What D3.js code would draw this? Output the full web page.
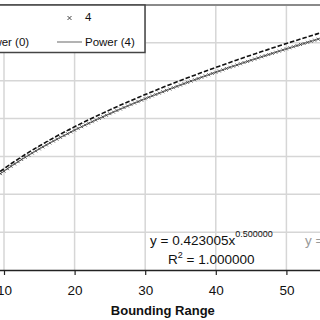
<!DOCTYPE html>
<html><head><meta charset="utf-8">
<script src="https://cdn.jsdelivr.net/npm/d3@7"></script>
<style>html,body{margin:0;padding:0;background:#fff;overflow:hidden}svg{display:block;font-family:"Liberation Sans",Arial,sans-serif}</style>
</head><body>
<svg id="c" width="320" height="320"></svg>
<script>
// ---- data ----
const xTicks = [10, 20, 30, 40, 50, 60];
const yGrid = [0.5, 1.0, 1.5, 2.0, 2.5, 3.0, 3.5];
// series "0" (Power (0) trend, black dashed)
const s0X = [8,9,10,11,12,13,14,15,16,17,18,19,20,21,22,23,24,25,26,27,28,29,30,31,32,33,34,35,36,37,38,39,40,41,42,43,44,45,46,47,48,49,50,51,52,53,54,55,56,57,58];
const s0Y = [1.196,1.269,1.338,1.403,1.465,1.525,1.583,1.638,1.692,1.744,1.795,1.844,1.892,1.938,1.984,2.029,2.072,2.115,2.157,2.198,2.238,2.278,2.317,2.355,2.393,2.430,2.467,2.503,2.538,2.573,2.608,2.642,2.675,2.708,2.741,2.774,2.806,2.838,2.869,2.900,2.931,2.961,2.991,3.021,3.050,3.079,3.108,3.137,3.165,3.194,3.221];
// series "4" (x markers, Power (4) trend gray)
const s4X = [9,9.5,10,10.5,11,11.5,12,12.5,13,13.5,14,14.5,15,15.5,16,16.5,17,17.5,18,18.5,19,19.5,20,20.5,21,21.5,22,22.5,23,23.5,24,24.5,25,25.5,26,26.5,27,27.5,28,28.5,29,29.5,30,30.5,31,31.5,32,32.5,33,33.5,34,34.5,35,35.5,36,36.5,37,37.5,38,38.5,39,39.5,40,40.5,41,41.5,42,42.5,43,43.5,44,44.5,45,45.5,46,46.5,47,47.5,48,48.5,49,49.5,50,50.5,51,51.5,52,52.5,53,53.5,54,54.5,55,55.5,56];
const s4Y = [1.239,1.273,1.306,1.338,1.370,1.401,1.431,1.460,1.489,1.517,1.545,1.573,1.600,1.626,1.652,1.678,1.703,1.728,1.752,1.776,1.800,1.824,1.847,1.870,1.893,1.915,1.937,1.959,1.981,2.002,2.023,2.044,2.065,2.086,2.106,2.126,2.146,2.166,2.185,2.205,2.224,2.243,2.262,2.281,2.300,2.318,2.336,2.354,2.373,2.390,2.408,2.426,2.443,2.461,2.478,2.495,2.512,2.529,2.546,2.563,2.579,2.596,2.612,2.628,2.644,2.661,2.677,2.692,2.708,2.724,2.740,2.755,2.770,2.786,2.801,2.816,2.831,2.846,2.861,2.876,2.891,2.906,2.920,2.935,2.949,2.964,2.978,2.992,3.007,3.021,3.035,3.049,3.063,3.077,3.091];
const legendNames = ["0", "4"];
const trendNames = ["Power (0)", "Power (4)"];
const eqMain = "y = 0.423005x";
const eqExp = "0.500000";
const r2Text = "1.000000";

// ---- layout ----
const svg = d3.select("#c");
const x = d3.scaleLinear().domain([0, 60]).range([-66.6, 357.0]);
const y = d3.scaleLinear().domain([0, 3.5]).range([270, 5]);

// gridlines
svg.append("g").selectAll("line").data(yGrid).join("line")
  .attr("x1", -100).attr("x2", 420)
  .attr("y1", d => y(d)).attr("y2", d => y(d))
  .attr("stroke", d => d === 3.5 ? "#8a8a8a" : "#d6d6d6")
  .attr("stroke-width", d => d === 3.5 ? 2 : 1.5);
svg.append("g").selectAll("line").data(xTicks).join("line")
  .attr("x1", d => x(d)).attr("x2", d => x(d))
  .attr("y1", y(3.5) + 1).attr("y2", y(0))
  .attr("stroke", "#d6d6d6").attr("stroke-width", 1.5);

// x axis
const ax = svg.append("g").attr("transform", `translate(0,${y(0)})`)
  .call(d3.axisBottom(x).tickValues(xTicks).tickSize(5).tickPadding(10).tickFormat(d3.format("d")));
ax.select(".domain").attr("stroke", "#222").attr("stroke-width", 1.5);
ax.selectAll(".tick line").attr("stroke", "#222").attr("stroke-width", 1.2);
ax.selectAll(".tick text").attr("font-size", 13.5).attr("fill", "#111")
  .attr("font-family", "'Liberation Sans',Arial,sans-serif");

svg.append("text").attr("x", x(32.5)).attr("y", 315).attr("text-anchor", "middle")
  .attr("font-size", 13).attr("font-weight", "bold").attr("fill", "#111")
  .text("Bounding Range");

// Power (4) gray trend through series 4
const line4 = d3.line().x((d, i) => x(s4X[i])).y(d => y(d)).curve(d3.curveMonotoneX);
svg.append("path").attr("d", line4(s4Y)).attr("fill", "none")
  .attr("stroke", "#8c8c8c").attr("stroke-width", 1.2);

// series 4 markers
const mk = 1.5;
svg.append("g").selectAll("path").data(s4Y).join("path")
  .attr("d", (d, i) => {
    const cx = x(s4X[i]), cy = y(d);
    return `M${cx-mk},${cy-mk}L${cx+mk},${cy+mk}M${cx-mk},${cy+mk}L${cx+mk},${cy-mk}`;
  })
  .attr("stroke", "#3a3a3a").attr("stroke-width", 0.8).attr("fill", "none");

// Power (0) black dashed trend
const line0 = d3.line().x((d, i) => x(s0X[i])).y(d => y(d)).curve(d3.curveMonotoneX);
svg.append("path").attr("d", line0(s0Y)).attr("fill", "none")
  .attr("stroke", "#111").attr("stroke-width", 1.6).attr("stroke-dasharray", "4.5 2");

// equation labels
const eq = svg.append("text").attr("x", 150).attr("y", 245).attr("font-size", 13.5).attr("fill", "#111");
eq.append("tspan").text(eqMain);
eq.append("tspan").attr("dy", -8).attr("font-size", 9).text(eqExp);
const r2 = svg.append("text").attr("x", 168).attr("y", 264).attr("font-size", 13.5).attr("fill", "#111");
r2.append("tspan").text("R");
r2.append("tspan").attr("dy", -6).attr("font-size", 9).text("2");
r2.append("tspan").attr("dy", 6).text(" = " + r2Text);
svg.append("text").attr("x", 305).attr("y", 245).attr("font-size", 13.5).attr("fill", "#999").text("y =");

// legend
const lg = svg.append("g");
lg.append("rect").attr("x", -200).attr("y", 5).attr("width", 345).attr("height", 47.5)
  .attr("fill", "#fff").attr("stroke", "#444").attr("stroke-width", 1.5);
const colX = [-37, 69.5];
const textX = [-20.7, 85];
// row 1: markers
lg.append("circle").attr("cx", colX[0]).attr("cy", 18).attr("r", 1.8).attr("fill", "#111");
lg.append("path").attr("d", `M${colX[1]-2},${16}L${colX[1]+2},${20}M${colX[1]-2},${20}L${colX[1]+2},${16}`)
  .attr("stroke", "#333").attr("stroke-width", 0.9);
lg.selectAll("text.n").data(legendNames).join("text").attr("class", "n")
  .attr("x", (d, i) => textX[i]).attr("y", 21).attr("font-size", 11.5).attr("fill", "#111").text(d => d);
// row 2: trend lines
lg.append("line").attr("x1", colX[0] - 12).attr("x2", colX[0] + 12).attr("y1", 42).attr("y2", 42)
  .attr("stroke", "#111").attr("stroke-width", 1.5).attr("stroke-dasharray", "4 2");
lg.append("line").attr("x1", 57).attr("x2", 82).attr("y1", 42).attr("y2", 42)
  .attr("stroke", "#9a9a9a").attr("stroke-width", 1.5);
lg.selectAll("text.t").data(trendNames).join("text").attr("class", "t")
  .attr("x", (d, i) => textX[i]).attr("y", 45.5).attr("font-size", 11.5).attr("fill", "#111").text(d => d);
</script>
</body></html>
